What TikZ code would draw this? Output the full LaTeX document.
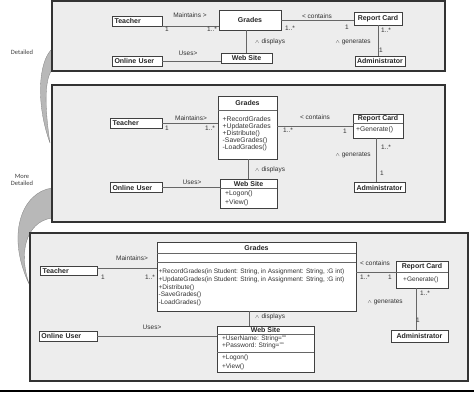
\documentclass[tikz,border=0pt]{standalone}
\usepackage{fontspec}
\setmainfont{Liberation Sans}
\newfontfamily\capfont{Carlito}
\usetikzlibrary{calc}
\begin{document}
\begin{tikzpicture}[x=1pt,y=-1pt,
 panel/.style={fill=black!7, draw=black!80, line width=1.3pt},
 cls/.style={draw=black!75, fill=white, line width=0.6pt, inner sep=0, font=\fontsize{7}{7.5}\selectfont\bfseries, text=black!85},
 lcls/.style={cls, inner xsep=2.5pt, align=left},
 ttl/.style={inner sep=0, font=\fontsize{7}{7.5}\selectfont\bfseries, text=black!85},
 lbl/.style={inner sep=0, font=\fontsize{6.5}{7}\selectfont, text=black!80},
 mth/.style={inner sep=0, anchor=west, font=\fontsize{6.8}{7}\selectfont, text=black!80},
 smth/.style={inner sep=0, anchor=west, font=\fontsize{6.5}{7}\selectfont, text=black!80},
 conn/.style={draw=black!60, line width=0.5pt},
 divl/.style={draw=black!60, line width=0.5pt},
 swoosh/.style={fill=black!28, draw=black!50, line width=0.3pt},
 captxt/.style={inner sep=0, font=\capfont\fontsize{6.5}{7.5}\selectfont, text=black!75, align=center}]
\useasboundingbox (0,0) rectangle (474,401);

% ---------- swooshes (behind panels) ----------
\draw[swoosh] (52,49) .. controls (38,62) and (36,105) .. (50,143)
  .. controls (45,110) and (44,80) .. (52,70) -- cycle;
\node[captxt] (c1) at (22,52) {Detailed};
\draw[swoosh] (52,188) .. controls (22,192) and (5,235) .. (30,286)
  .. controls (18,255) and (25,222) .. (52,218) -- cycle;
\node[captxt] (c2) at (22,180) {More\\Detailed};

% ---------- panel 1 ----------
\draw[panel] (52,1) rectangle (445,71);
\node[lcls, text width=45pt, minimum height=10pt] (t1) at (137,21) {Teacher};
\node[cls, minimum width=62pt, minimum height=20pt] (g1) at (250,20) {Grades};
\node[cls, minimum width=48pt, minimum height=13pt] (r1) at (378,18.5) {Report Card};
\node[lcls, text width=45pt, minimum height=10pt] (o1) at (137,61) {Online User};
\node[cls, minimum width=51pt, minimum height=10pt] (w1) at (246.5,58) {Web Site};
\node[cls, minimum width=50pt, minimum height=10pt] (a1) at (380,61) {Administrator};
\draw[conn] (t1.south east) -- (t1.south east -| g1.west);
\draw[conn] (g1.east) -- (g1.east -| r1.west);
\draw[conn] (w1.north) -- (w1.north |- g1.south);
\draw[conn] (o1.east) -- (o1.east -| w1.west);
\draw[conn] (r1.south) -- (r1.south |- a1.north);
\node[lbl] (l1a) at (190,15) {Maintains >};
\node[lbl] (l1b) at (167,29) {1};
\node[lbl] (l1c) at (212,29) {1..*};
\node[lbl] (l1d) at (317,16) {< contains};
\node[lbl] (l1e) at (290,28) {1..*};
\node[lbl] (l1f) at (347,27) {1};
\node[lbl] (l1g) at (270,42) {$\scriptstyle\wedge$ displays};
\node[lbl] (l1h) at (188,53) {Uses>};
\node[lbl, anchor=west] (l1i) at (381,30) {1..*};
\node[lbl] (l1j) at (353,42) {$\scriptstyle\wedge$ generates};
\node[lbl] (l1k) at (381,50) {1};

% ---------- panel 2 ----------
\draw[panel] (52,85) rectangle (445,222);
\node[lcls, text width=47pt, minimum height=10pt] (t2) at (136,123) {Teacher};
\node[cls, minimum width=59pt, minimum height=63pt] (g2) at (247.5,127.5) {};
\node[ttl] (g2t) at (247.5,103) {Grades};
\draw[divl] (218,110) -- (277,110);
\foreach \s [count=\i] in {+RecordGrades,+UpdateGrades,+Distribute(),-SaveGrades(),-LoadGrades()}
  \node[mth] (g2m\i) at (222.5,111.75+7.25*\i) {\s};
\node[cls, minimum width=50pt, minimum height=24pt] (r2) at (378,126) {};
\node[ttl] (r2t) at (378,118.5) {Report Card};
\draw[divl] (353,123) -- (403,123);
\node[mth] (r2m) at (356,130) {+Generate()};
\node[cls, minimum width=57pt, minimum height=29pt] (w2) at (248.5,193.5) {};
\node[ttl] (w2t) at (248.5,183.5) {Web Site};
\draw[divl] (220,188) -- (277,188);
\node[mth] (w2m1) at (225,193.5) {+Logon()};
\node[mth] (w2m2) at (225,202.5) {+View()};
\node[lcls, text width=47pt, minimum height=9.5pt] (o2) at (136,187.5) {Online User};
\node[cls, minimum width=51pt, minimum height=9.5pt] (a2) at (379.5,187.5) {Administrator};
\draw[conn] (t2.east) -- (t2.east -| g2.west);
\draw[conn] (r2.west) -- (r2.west -| g2.east);
\draw[conn] (w2.north) -- (w2.north |- g2.south);
\draw[conn] (o2.east) -- (o2.east -| w2.west);
\draw[conn] ($(r2.south)+(-2,0)$) coordinate (r2x) -- (r2x |- a2.north);
\node[lbl] (l2a) at (191,118) {Maintains>};
\node[lbl] (l2b) at (167,128) {1};
\node[lbl] (l2c) at (210,128) {1..*};
\node[lbl] (l2d) at (315,117) {< contains};
\node[lbl] (l2e) at (288,130) {1..*};
\node[lbl] (l2f) at (345,131) {1};
\node[lbl] (l2g) at (270,170) {$\scriptstyle\wedge$ displays};
\node[lbl] (l2h) at (192,182) {Uses>};
\node[lbl, anchor=west] (l2i) at (381,147) {1..*};
\node[lbl] (l2j) at (353,155) {$\scriptstyle\wedge$ generates};
\node[lbl] (l2k) at (382,173) {1};

% ---------- panel 3 ----------
\draw[panel] (30,233) rectangle (468,381);
\node[lcls, text width=52pt, minimum height=9pt] (t3) at (68.5,270.5) {Teacher};
\node[cls, minimum width=199pt, minimum height=69pt] (g3) at (256.5,276.5) {};
\node[ttl] (g3t) at (256.5,248) {Grades};
\draw[divl] (157,253.5) -- (356,253.5);
\draw[divl] (157,262) -- (356,262);
\foreach \s [count=\i] in {{+RecordGrades(in Student: String, in Assignment: String, :G int)},{+UpdateGrades(in Student: String, in Assignment: String, :G int)},{+Distribute()},{-SaveGrades()},{-LoadGrades()}}
  \node[smth] (g3m\i) at (158.5,264.25+7.75*\i) {\s};
\node[cls, minimum width=52pt, minimum height=27pt] (r3) at (422,274.5) {};
\node[ttl] (r3t) at (422,266.5) {Report Card};
\draw[divl] (396,272) -- (448,272);
\node[smth] (r3m) at (403,280) {+Generate()};
\node[cls, minimum width=97pt, minimum height=46pt] (w3) at (265.5,349) {};
\node[ttl] (w3t) at (265.5,330) {Web Site};
\draw[divl] (217,334) -- (314,334);
\draw[divl] (217,352.5) -- (314,352.5);
\node[smth] (w3a1) at (222,338.5) {+UserName: String=""};
\node[smth] (w3a2) at (222,346) {+Password: String=""};
\node[smth] (w3m1) at (222,358) {+Logon()};
\node[smth] (w3m2) at (222,366.5) {+View()};
\node[lcls, text width=53pt, minimum height=10pt] (o3) at (68,336) {Online User};
\node[cls, minimum width=57pt, minimum height=12pt] (a3) at (419.5,336) {Administrator};
\draw[conn] ($(t3.east)+(0,-2)$) coordinate (t3x) -- (t3x -| g3.west);
\draw[conn] ($(r3.west)+(0,-2)$) coordinate (r3y) -- (r3y -| g3.east);
\draw[conn] ($(g3.south)+(-7.5,0)$) coordinate (g3x) -- (g3x |- w3.north);
\draw[conn] (o3.east) -- (o3.east -| w3.west);
\draw[conn] ($(a3.north)+(-3.5,0)$) coordinate (a3x) -- (a3x |- r3.south);
\node[lbl] (l3a) at (132,258) {Maintains>};
\node[lbl] (l3b) at (103,277) {1};
\node[lbl] (l3c) at (150,277) {1..*};
\node[lbl] (l3d) at (375,263) {< contains};
\node[lbl] (l3e) at (365,277) {1..*};
\node[lbl] (l3f) at (390,277) {1};
\node[lbl] (l3g) at (270,317) {$\scriptstyle\wedge$ displays};
\node[lbl] (l3h) at (152,327) {Uses>};
\node[lbl, anchor=west] (l3i) at (420,293) {1..*};
\node[lbl] (l3j) at (385,302) {$\scriptstyle\wedge$ generates};
\node[lbl] (l3k) at (418,320) {1};

% ---------- bottom rule ----------
\draw[line width=2pt] (0,391) -- (474,391);
\end{tikzpicture}
\end{document}
